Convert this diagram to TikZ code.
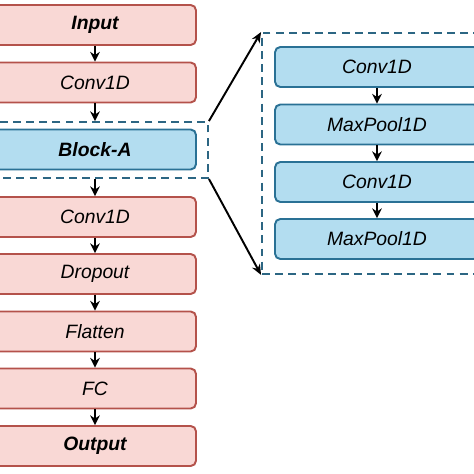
\documentclass[tikz,border=0pt]{standalone}
\usepackage{fontspec}
\setmainfont{Liberation Sans}
\usetikzlibrary{arrows.meta}

\definecolor{pinkfill}{HTML}{F9D8D5}
\definecolor{pinkline}{HTML}{B4524B}
\definecolor{bluefill}{HTML}{B3DDF0}
\definecolor{blueline}{HTML}{2A7195}
\definecolor{dashline}{HTML}{2C6683}

\tikzset{
    layer/.style={draw=pinkline, fill=pinkfill, line width=1.1pt, rounded corners=3pt,
        minimum width=4.04cm, minimum height=0.8cm, font=\fontsize{11}{13}\selectfont\itshape},
    sublayer/.style={layer, draw=blueline, fill=bluefill, minimum width=4.08cm},
    flow/.style={line width=1.2pt, -{Stealth[length=5.5pt, width=5.5pt]}},
    zoomline/.style={line width=1.1pt, -{Stealth[length=6pt, width=5pt]}},
    blockframe/.style={draw=dashline, line width=1.1pt, dash pattern=on 4.5pt off 3pt, inner sep=0pt}
}

\begin{document}
\begin{tikzpicture}[x=0.02cm, y=-0.02cm]
    \useasboundingbox (0, 0) rectangle (474, 474);
    \clip (0, 0) rectangle (474, 474);

    % main column
    \node[layer, font=\fontsize{11}{13}\selectfont\bfseries\itshape] (in) at(95, 25) {Input};
    \node[layer] (c1) at(95, 82.5) {Conv1D};
    \node[layer, draw=blueline, fill=bluefill, font=\fontsize{11}{13}\selectfont\bfseries\itshape] (blk) at(95, 149.5) {Block-A};
    \node[layer] (c2) at(95, 217) {Conv1D};
    \node[layer] (drop) at(95, 274) {Dropout};
    \node[layer] (flat) at(95, 331.5) {Flatten};
    \node[layer] (fc) at(95, 388.5) {FC};
    \node[layer, font=\fontsize{11}{13}\selectfont\bfseries\itshape] (out) at(95, 446) {Output};

    % frame round Block-A
    \node[blockframe, minimum width=4.36cm, minimum height=1.12cm] (bframe) at(99, 150) {};

    \draw[flow] (in) -- (c1);
    \draw[flow] (c1.south) -- (c1.south |- bframe.north);
    \draw[flow] (c2.north |- bframe.south) -- (c2.north);
    \draw[flow] (c2) -- (drop);
    \draw[flow] (drop) -- (flat);
    \draw[flow] (flat) -- (fc);
    \draw[flow] (fc) -- (out);

    % inside of Block-A
    \node[blockframe, minimum width=4.66cm, minimum height=4.82cm] (zframe) at(378.5, 153.5) {};

    \node[sublayer] (s1) at(377, 67) {Conv1D};
    \node[sublayer] (s2) at(377, 124.5) {MaxPool1D};
    \node[sublayer] (s3) at(377, 182) {Conv1D};
    \node[sublayer] (s4) at(377, 239) {MaxPool1D};

    \foreach \a/\b in {s1/s2, s2/s3, s3/s4}
    {\draw[flow] (\a) -- (\b);}

    \draw[zoomline] (bframe.north east) -- (zframe.north west);
    \draw[zoomline] (bframe.south east) -- (zframe.south west);
\end{tikzpicture}
\end{document}
